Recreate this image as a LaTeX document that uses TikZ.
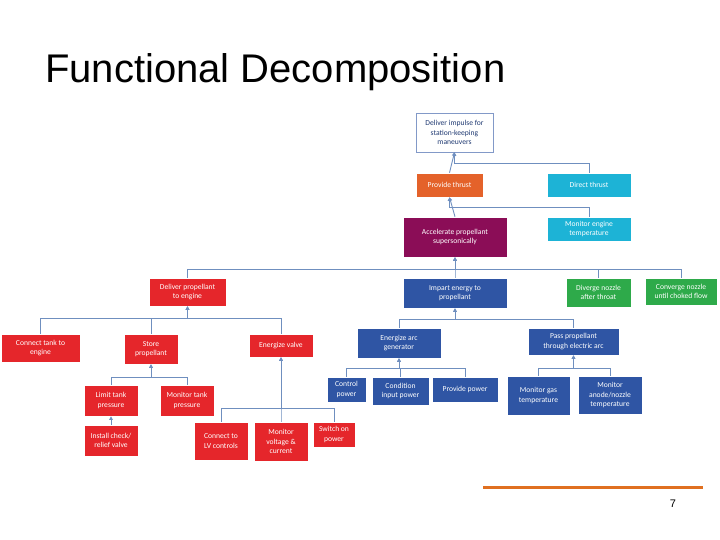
\documentclass[tikz,border=0pt]{standalone}
\usepackage{fontspec}
\setmainfont{Liberation Sans}
\newfontfamily\boxfont{Carlito}
\usetikzlibrary{arrows.meta}
\definecolor{cor}{HTML}{E4622A}
\definecolor{ccy}{HTML}{1DB3D6}
\definecolor{cpu}{HTML}{8B0D57}
\definecolor{cre}{HTML}{E5262B}
\definecolor{cbl}{HTML}{2F55A4}
\definecolor{cgr}{HTML}{2EAA4A}
\definecolor{cln}{HTML}{6F8FBF}
\definecolor{cbar}{HTML}{E07020}
\tikzset{box/.style={draw=white,line width=0.6pt,inner sep=1pt,text=white,align=center,font=\boxfont\fontsize{7.6}{9.2}\selectfont},
conn/.style={draw=cln,line width=0.9pt,-{Triangle[length=3.5pt,width=3.5pt]}}}
\newcommand\bx[7]{\node[box,fill=#6,minimum width={(#4-#2)*1pt},minimum height={(#5-#3)*1pt}] (#1) at ({(#2+#4)/2},{(#3+#5)/2}) {#7};}
\begin{document}
\begin{tikzpicture}[x=1pt,y=-1pt]
\useasboundingbox (0,0) rectangle (720,540);
\node[anchor=base west,font=\fontsize{40}{44}\selectfont,inner sep=0] (title) at (45,83) {Functional Decomposition};
\node[box,fill=white,draw=cbl!60,text=cbl!70!black,minimum width=77pt,minimum height=39pt] (top) at (454.5,132.5) {Deliver impulse for\\station-keeping\\maneuvers};
\bx{pt}{416}{173}{483}{197}{cor}{Provide thrust}
\bx{dt}{547}{173}{631}{197}{ccy}{Direct thrust}
\bx{acc}{403}{217}{507}{257}{cpu}{Accelerate propellant\\supersonically}
\bx{met}{547}{217}{631}{241}{ccy}{Monitor engine\\temperature}
\bx{dpe}{149}{278}{226}{306}{cre}{Deliver propellant\\to engine}
\bx{imp}{403}{278}{507}{308}{cbl}{Impart energy to\\propellant}
\bx{div}{566}{278}{631}{307}{cgr}{Diverge nozzle\\after throat}
\bx{con}{645}{278}{717}{305}{cgr}{Converge nozzle\\until choked flow}
\bx{ct}{1}{334}{80}{362}{cre}{Connect tank to\\engine}
\bx{sp}{124}{334}{178}{364}{cre}{Store\\propellant}
\bx{ev}{249}{334}{313}{357}{cre}{Energize valve}
\bx{lt}{84}{385}{138}{416}{cre}{Limit tank\\pressure}
\bx{mt}{160}{385}{214}{416}{cre}{Monitor tank\\pressure}
\bx{ic}{84}{425}{138}{456}{cre}{Install check/\\relief valve}
\bx{lv}{194}{422}{248}{460}{cre}{Connect to\\LV controls}
\bx{mv}{254}{422}{308}{461}{cre}{Monitor\\voltage \&\\current}
\bx{sw}{313}{422}{355}{447}{cre}{Switch on\\power}
\bx{eag}{357}{328}{441}{358}{cbl}{Energize arc\\generator}
\bx{pp}{528}{328}{619}{355}{cbl}{Pass propellant\\through electric arc}
\bx{cp}{327}{377}{366}{402}{cbl}{Control\\power}
\bx{cip}{372}{377}{429}{405}{cbl}{Condition\\input power}
\bx{ppw}{432}{377}{498}{402}{cbl}{Provide power}
\bx{mg}{507}{376}{570}{415}{cbl}{Monitor gas\\temperature}
\bx{ma}{578}{376}{642}{414}{cbl}{Monitor\\anode/nozzle\\temperature}
% connectors
\draw[conn] (pt.north) -- (top.south);
\draw[conn] (dt.north) |- (top.south |- 0,163) -- (top.south);
\draw[conn] (acc.north) -- (pt.south);
\draw[conn] (met.north) |- (pt.south |- 0,207) -- (pt.south);
\foreach \c in {dpe,imp,div,con}{\draw[conn] (\c.north) |- (acc.south |- 0,269) -- (acc.south);}
\foreach \c in {ct,sp,ev}{\draw[conn] (\c.north) |- (dpe.south |- 0,318) -- (dpe.south);}
\foreach \c in {lt,mt}{\draw[conn] (\c.north) |- (sp.south |- 0,377) -- (sp.south);}
\draw[conn] (ic.north) -- (lt.south);
\foreach \c in {lv,mv,sw}{\draw[conn] (\c.north) |- (ev.south |- 0,408) -- (ev.south);}
\foreach \c in {eag,pp}{\draw[conn] (\c.north) |- (imp.south |- 0,319) -- (imp.south);}
\foreach \c in {cp,cip,ppw}{\draw[conn] (\c.north) |- (eag.south |- 0,368) -- (eag.south);}
\foreach \c in {mg,ma}{\draw[conn] (\c.north) |- (pp.south |- 0,368) -- (pp.south);}
\coordinate (b1) at (483,487); \coordinate (b2) at (703,487);
\draw[cbar,line width=3pt] (b1) -- (b2);
\node[font=\fontsize{11}{12}\selectfont,inner sep=0] (pg) at (673,504) {7};
\end{tikzpicture}
\end{document}
